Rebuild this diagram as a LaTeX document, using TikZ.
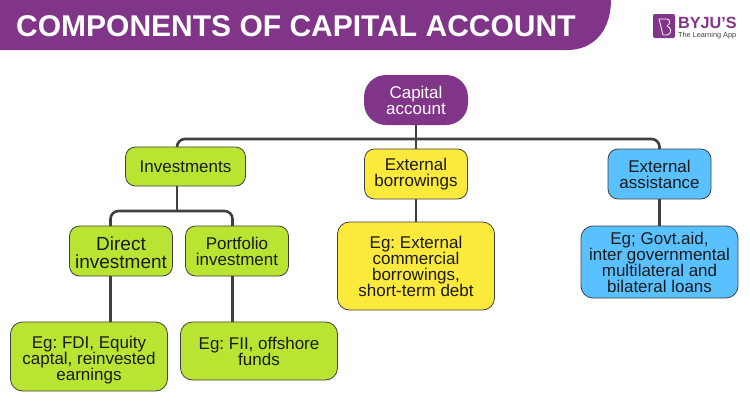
\documentclass[tikz,border=0pt]{standalone}
\usepackage{fontspec}
\setmainfont{Liberation Sans}
\usetikzlibrary{positioning}
\definecolor{byjupurple}{HTML}{813588}
\definecolor{boxgreen}{HTML}{B9E532}
\definecolor{boxyellow}{HTML}{FBE93C}
\definecolor{boxblue}{HTML}{59C1FF}
\definecolor{linegray}{HTML}{404040}
\definecolor{inkblack}{HTML}{1A1A1A}
\newcommand{\sizeA}{\fontsize{17}{16}\selectfont\frenchspacing}
\newcommand{\sizeB}{\fontsize{19}{18}\selectfont\frenchspacing}
\tikzset{
  item/.style={draw=linegray,line width=0.8pt,rounded corners=10pt,inner sep=0pt,outer sep=0pt,
    align=center,text=inkblack,font=\sizeA,minimum width=103pt,minimum height=50pt},
  example/.style={item,rounded corners=12pt,minimum width=157pt},
  link/.style={draw=linegray,line width=2.6pt,rounded corners=8pt},
}
\begin{document}
\begin{tikzpicture}[x=1pt,y=1pt]
  \useasboundingbox (0,0) rectangle (750,-410);
  % banner
  \fill[byjupurple] (0,0) -- (611,0) .. controls (611,-28) and (596,-50) .. (567,-50) -- (0,-50) -- cycle;
  \node [anchor=west,inner sep=0pt,text=white,font=\fontsize{30}{30}\selectfont\bfseries\frenchspacing] (title)
    at (16,-26) {COMPONENTS OF CAPITAL ACCOUNT};
  % logo
  \node [fill=byjupurple,rounded corners=2pt,minimum width=22pt,minimum height=24pt,inner sep=0pt,outer sep=0pt]
    (logo) at (664,-26) {};
  \draw[white,line width=0.8pt,line join=round] (659,-19) -- (667,-19)
    .. controls (670,-19) and (671,-24) .. (667,-26)
    .. controls (672,-28) and (672,-34) .. (667,-35) -- (663,-35) -- cycle;
  \node [right=3pt of logo.north east,anchor=north west,yshift=-3pt,inner sep=0pt,text=byjupurple,
    font=\fontsize{16.2}{16}\selectfont\bfseries] (brand) {BYJU'S};
  \node [below=3pt of brand.south west,anchor=north west,inner sep=0pt,text=linegray,
    font=\fontsize{7.3}{8}\selectfont] (slogan) {The Learning App};
  % tree
  \node [item,fill=byjupurple,draw=none,text=white,rounded corners=22pt,minimum width=104pt] (capital)
    at (416,-100) {Capital\\account};
  \node [item,fill=boxyellow,below=24pt of capital] (borrowings) {External\\borrowings};
  \node [example,fill=boxyellow,below=23pt of borrowings,minimum height=88pt] (debt)
    {Eg: External\\commercial\\borrowings,\\short-term debt};
  \node [item,fill=boxblue,right=140.5pt of borrowings] (assistance) {External\\assistance};
  \node [example,fill=boxblue,below=27pt of assistance,minimum height=72pt] (loans)
    {Eg; Govt.aid,\\inter governmental\\multilateral and\\bilateral loans};
  \node [item,fill=boxgreen,left=119pt of borrowings,yshift=7.5pt,minimum width=120pt,minimum height=39pt]
    (investments) {Investments};
  \node [item,fill=boxgreen,below=40pt of investments,xshift=51.5pt] (portfolio) {Portfolio\\investment};
  \node [item,fill=boxgreen,left=13pt of portfolio,font=\sizeB] (direct) {\rule{0pt}{18pt}Direct\\investment};
  \node [example,fill=boxgreen,below=46pt of direct,xshift=-32pt,minimum height=69pt] (fdi)
    {\rule{0pt}{20pt}Eg: FDI, Equity\\captal, reinvested\\earnings};
  \node [example,fill=boxgreen,below=46pt of portfolio,xshift=22pt,minimum height=58pt] (fii)
    {Eg: FII, offshore\\funds};
  % connectors
  \coordinate (topbus) at ([yshift=10pt]borrowings.north);
  \coordinate (investbus) at ([yshift=15pt]direct.north);
  \coordinate (investdrop) at ([xshift=-8.5pt]investments.south);
  \coordinate (directdrop) at ([xshift=-10.5pt]direct.south);
  \coordinate (portfoliodrop) at ([xshift=-4.5pt]portfolio.south);
  \draw[link] (capital) -- (borrowings);
  \draw[link] (investments.north -| investdrop) -- (investdrop |- topbus) -- (assistance.north |- topbus) -- (assistance.north);
  \draw[link] (investdrop) -- (investdrop |- investbus);
  \draw[link] (direct.north -| directdrop) -- (directdrop |- investbus) -- (portfoliodrop |- investbus) -- (portfolio.north -| portfoliodrop);
  \draw[link] (directdrop) -- (fdi.north -| directdrop);
  \draw[link] (portfoliodrop) -- (fii.north -| portfoliodrop);
  \draw[link] (borrowings) -- (debt);
  \draw[link] (assistance) -- (loans);
\end{tikzpicture}
\end{document}
